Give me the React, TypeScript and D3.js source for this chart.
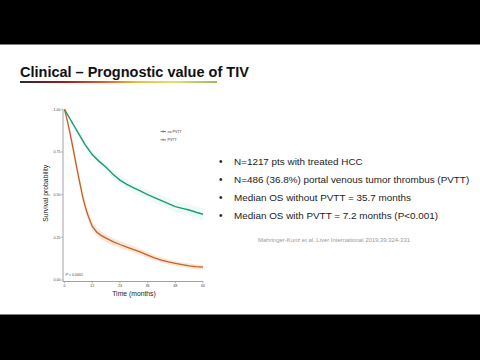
import React from 'react';
import * as d3 from 'd3';

// ---- data ----
const greenTimes = [0, 3, 6, 9, 12, 15, 18, 21, 24, 27, 30, 33, 36, 39, 42, 45, 48, 51, 54, 57, 60];
const greenSurv = [1, 0.93, 0.86, 0.792, 0.735, 0.695, 0.66, 0.62, 0.585, 0.56, 0.54, 0.52, 0.5, 0.483, 0.465, 0.447, 0.43, 0.42, 0.41, 0.397, 0.385];
const greenCI = [0, 0.01, 0.015, 0.018, 0.02, 0.022, 0.023, 0.024, 0.025, 0.026, 0.027, 0.028, 0.028, 0.029, 0.03, 0.03, 0.031, 0.032, 0.033, 0.034, 0.035];

const orangeTimes = [0, 1, 2, 3, 4, 5, 6, 7, 8, 9, 10, 12, 14, 16, 18, 21, 24, 27, 30, 33, 36, 39, 42, 45, 48, 51, 54, 57, 60];
const orangeSurv = [1, 0.945, 0.885, 0.82, 0.75, 0.68, 0.61, 0.545, 0.48, 0.43, 0.385, 0.315, 0.28, 0.26, 0.245, 0.225, 0.208, 0.193, 0.178, 0.163, 0.146, 0.13, 0.117, 0.106, 0.098, 0.09, 0.083, 0.078, 0.076];
const orangeCI = [0, 0.02, 0.025, 0.03, 0.03, 0.03, 0.03, 0.03, 0.03, 0.03, 0.028, 0.025, 0.024, 0.023, 0.022, 0.021, 0.02, 0.02, 0.019, 0.018, 0.017, 0.016, 0.015, 0.015, 0.014, 0.014, 0.014, 0.014, 0.014];

const xTicks = [0, 12, 24, 36, 48, 60];
const yTicks = [0, 0.25, 0.5, 0.75, 1];
const yTickLabels = ['0.00', '0.25', '0.50', '0.75', '1.00'];
const legendLabels = ['no PVTT', 'PVTT'];

const title = 'Clinical \u2013 Prognostic value of TIV';
const bullets = [
  'N=1217 pts with treated HCC',
  'N=486 (36.8%) portal venous tumor thrombus (PVTT)',
  'Median OS without PVTT = 35.7 months',
  'Median OS with PVTT = 7.2 months (P<0.001)',
];
const citation = 'Mahringer-Kunz et al. Liver International 2019;39:324-331';

const GREEN = '#1b9a72';
const ORANGE = '#c2602a';
const FONT = 'Liberation Sans, Arial, Helvetica, sans-serif';

export default function App() {
  const x = d3.scaleLinear().domain([0, 60]).range([64.5, 203]);
  const y = d3.scaleLinear().domain([0, 1]).range([280, 109.3]);

  const mk = (times: number[], surv: number[]) => times.map((t, i) => ({ t, v: surv[i] }));
  const mkBand = (times: number[], surv: number[], ci: number[]) =>
    times.map((t, i) => ({ t, lo: Math.max(0, surv[i] - ci[i]), hi: Math.min(1, surv[i] + ci[i]) }));

  const line = d3.line<{ t: number; v: number }>().x(d => x(d.t)).y(d => y(d.v));
  const area = d3
    .area<{ t: number; lo: number; hi: number }>()
    .x(d => x(d.t))
    .y0(d => y(d.lo))
    .y1(d => y(d.hi));

  const gPath = line(mk(greenTimes, greenSurv)) || '';
  const oPath = line(mk(orangeTimes, orangeSurv)) || '';
  const gBand = area(mkBand(greenTimes, greenSurv, greenCI)) || '';
  const oBand = area(mkBand(orangeTimes, orangeSurv, orangeCI)) || '';

  const axisColor = '#8a8a8a';
  const axX = 63;
  const axY = 281.5;

  return (
    <svg width={480} height={360} style={{ position: 'absolute', left: 0, top: 0 }} fontFamily={FONT}>
      <defs>
        <linearGradient id="ul" x1="0" x2="1" y1="0" y2="0">
          <stop offset="0" stopColor="#2a2a2a" />
          <stop offset="0.22" stopColor="#a3161e" />
          <stop offset="0.42" stopColor="#dd5a2a" />
          <stop offset="0.6" stopColor="#efbf35" />
          <stop offset="0.78" stopColor="#e3e070" />
          <stop offset="1" stopColor="#8fbf63" />
        </linearGradient>
      </defs>
      <rect x={0} y={0} width={480} height={360} fill="#000" />
      <rect x={0} y={44.5} width={480} height={270} fill="#fff" />

      <text x={20} y={76.5} fontSize={14.5} fontWeight="bold" fill="#111">{title}</text>
      <rect x={20} y={81} width={197} height={2} fill="url(#ul)" />

      {/* chart */}
      <path d={gBand} fill="#a8e6d8" opacity={0.2} />
      <path d={oBand} fill="#f6b98a" opacity={0.35} />
      <path d={gPath} fill="none" stroke={GREEN} strokeWidth={1.4} />
      <path d={oPath} fill="none" stroke={ORANGE} strokeWidth={1.3} />

      <line x1={axX} x2={axX} y1={y(1)} y2={axY} stroke={axisColor} strokeWidth={0.8} />
      <line x1={axX} x2={x(60)} y1={axY} y2={axY} stroke={axisColor} strokeWidth={0.8} />
      {yTicks.map((v, i) => (
        <g key={'y' + i}>
          <line x1={axX - 1.8} x2={axX} y1={y(v)} y2={y(v)} stroke={axisColor} strokeWidth={0.6} />
          <text x={axX - 2.5} y={y(v) + 1.2} fontSize={3.6} textAnchor="end" fill="#444">{yTickLabels[i]}</text>
        </g>
      ))}
      {xTicks.map((t, i) => (
        <g key={'x' + i}>
          <line x1={x(t)} x2={x(t)} y1={axY} y2={axY + 1.8} stroke={axisColor} strokeWidth={0.6} />
          <text x={x(t)} y={axY + 5.6} fontSize={3.6} textAnchor="middle" fill="#444">{t}</text>
        </g>
      ))}
      <text x={134} y={296} fontSize={6.8} textAnchor="middle" fill="#222">Time (months)</text>
      <text transform="translate(47.5,193.3) rotate(-90)" fontSize={6.8} textAnchor="middle" fill="#222">Survival probability</text>
      <text x={65.5} y={276.3} fontSize={3.6} fill="#444"><tspan fontStyle="italic">P</tspan> &lt; 0.0001</text>

      {/* legend */}
      {legendLabels.map((lab, i) => {
        const ly = 131.5 + i * 8.3;
        const c = i === 0 ? GREEN : ORANGE;
        return (
          <g key={lab}>
            <line x1={160.5} x2={166} y1={ly} y2={ly} stroke={c} strokeWidth={0.9} />
            <line x1={163.25} x2={163.25} y1={ly - 1.2} y2={ly + 1.2} stroke={c} strokeWidth={0.6} />
            <text x={167.5} y={ly + 1.3} fontSize={3.6} fill="#333">{lab}</text>
          </g>
        );
      })}

      {/* bullets */}
      {bullets.map((b, i) => {
        const by = 165.3 + i * 18;
        return (
          <g key={i}>
            <text x={219} y={by} fontSize={10} fill="#222">{'\u2022'}</text>
            <text x={234} y={by} fontSize={9.9} fill="#222">{b}</text>
          </g>
        );
      })}
      <text x={258} y={241.8} fontSize={5.2} fill="#9a9a9a" textLength={152} lengthAdjust="spacingAndGlyphs">{citation}</text>
    </svg>
  );
}
